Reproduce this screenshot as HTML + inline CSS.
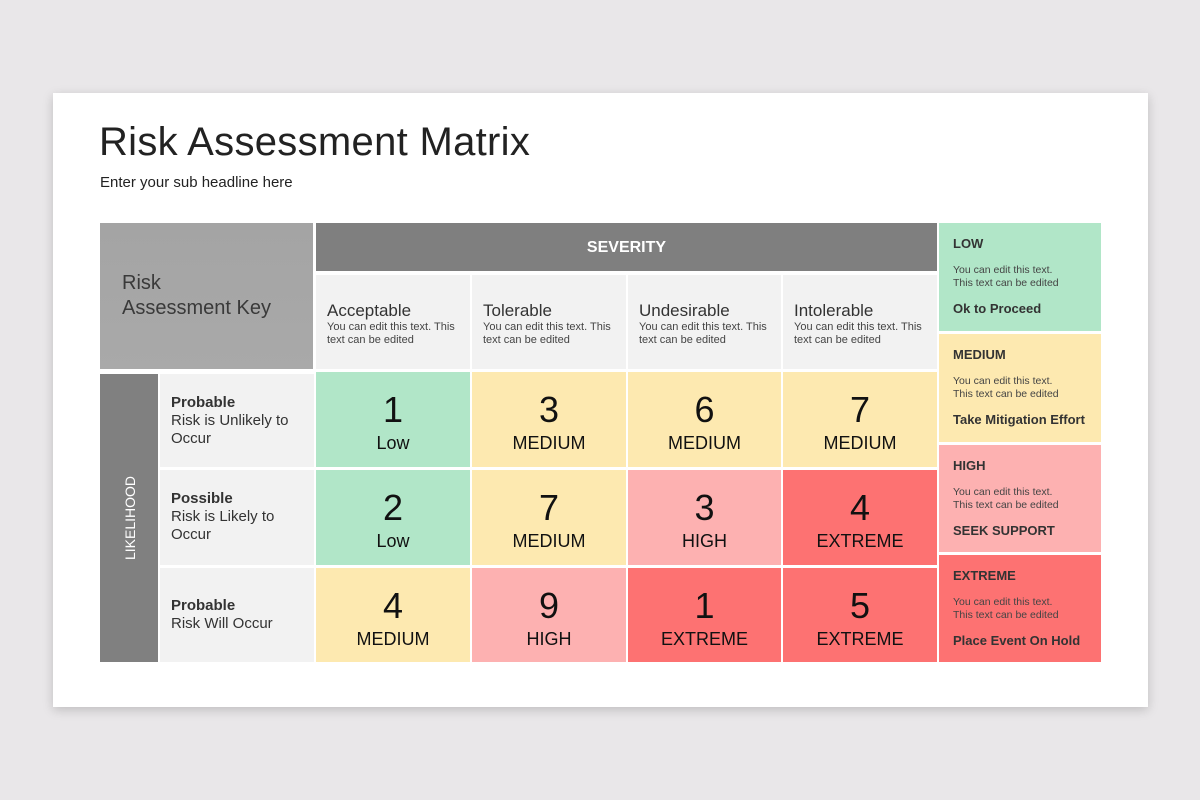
<!DOCTYPE html>
<html><head><style>
body{margin:0;width:1200px;height:800px;background:#e9e7e9;font-family:"Liberation Sans",sans-serif;position:relative;overflow:hidden}
.card{position:absolute;left:53px;top:93px;width:1095px;height:614px;background:#fff;box-shadow:0 3px 10px rgba(0,0,0,.18)}
.a{position:absolute;box-sizing:border-box}
.g{background:#b1e6c8}.y{background:#fde9b0}.p{background:#fdb1b1}.r{background:#fd7272}
.cell{text-align:center;color:#111}
.cell .n{font-size:36px;line-height:36px;margin-top:20px}
.cell .l{font-size:18px;margin-top:5px}
.hd{background:#f2f2f2;padding:26px 0 0 11px;color:#333}
.hd b{font-weight:normal;font-size:17px;display:block}
.hd span{font-size:11px;line-height:13px;display:block;color:#444;padding-right:8px}
.rl{background:#f2f2f2;padding:20px 0 0 11px;color:#333;font-size:15px;line-height:18px}
.rp{padding:13px 0 0 14px;color:#333}
.rp b{font-size:13px;display:block}
.rp span{font-size:10.5px;line-height:13px;display:block;margin-top:13px;color:#444}
.rp i{font-style:normal;font-weight:bold;font-size:13px;display:block;margin-top:11px}
</style></head><body>
<div class="card"></div>
<div class="a" style="left:99px;top:120px;font-size:40px;letter-spacing:0.3px;color:#222">Risk Assessment Matrix</div>
<div class="a" style="left:100px;top:174px;font-size:15px;color:#222">Enter your sub headline here</div>
<div class="a" style="left:100px;top:223px;width:213px;height:146px;background:linear-gradient(#a4a4a4,#a9a9a9);padding:48px 0 0 22px;font-size:20px;line-height:25px;color:#3a3a3a">Risk<br>Assessment Key</div>
<div class="a" style="left:316px;top:223px;width:621px;height:48px;background:#7f7f7f;color:#fff;font-weight:bold;font-size:16px;text-align:center;line-height:50px">SEVERITY</div>
<div class="a hd" style="left:316px;top:275px;width:154px;height:94px"><b>Acceptable</b><span>You can edit this text. This text can be edited</span></div>
<div class="a hd" style="left:472px;top:275px;width:154px;height:94px"><b>Tolerable</b><span>You can edit this text. This text can be edited</span></div>
<div class="a hd" style="left:628px;top:275px;width:153px;height:94px"><b>Undesirable</b><span>You can edit this text. This text can be edited</span></div>
<div class="a hd" style="left:783px;top:275px;width:154px;height:94px"><b>Intolerable</b><span>You can edit this text. This text can be edited</span></div>
<div class="a" style="left:100px;top:374px;width:58px;height:288px;background:#808080"></div>
<div class="a" style="left:118px;top:506px;width:24px;height:24px;transform:rotate(-90deg);transform-origin:center;color:#fff;font-size:14px;white-space:nowrap;text-align:center;line-height:24px"><span style="display:inline-block;width:120px;margin-left:-48px">LIKELIHOOD</span></div>
<div class="a rl" style="left:160px;top:374px;width:154px;height:93px"><b>Probable</b><br>Risk is Unlikely to Occur</div>
<div class="a rl" style="left:160px;top:470px;width:154px;height:95px"><b>Possible</b><br>Risk is Likely to Occur</div>
<div class="a rl" style="left:160px;top:568px;width:154px;height:94px;padding-top:29px"><b>Probable</b><br>Risk Will Occur</div>

<div class="a cell g" style="left:316px;top:372px;width:154px;height:95px"><div class="n">1</div><div class="l">Low</div></div>
<div class="a cell y" style="left:472px;top:372px;width:154px;height:95px"><div class="n">3</div><div class="l">MEDIUM</div></div>
<div class="a cell y" style="left:628px;top:372px;width:153px;height:95px"><div class="n">6</div><div class="l">MEDIUM</div></div>
<div class="a cell y" style="left:783px;top:372px;width:154px;height:95px"><div class="n">7</div><div class="l">MEDIUM</div></div>
<div class="a cell g" style="left:316px;top:470px;width:154px;height:95px"><div class="n">2</div><div class="l">Low</div></div>
<div class="a cell y" style="left:472px;top:470px;width:154px;height:95px"><div class="n">7</div><div class="l">MEDIUM</div></div>
<div class="a cell p" style="left:628px;top:470px;width:153px;height:95px"><div class="n">3</div><div class="l">HIGH</div></div>
<div class="a cell r" style="left:783px;top:470px;width:154px;height:95px"><div class="n">4</div><div class="l">EXTREME</div></div>
<div class="a cell y" style="left:316px;top:568px;width:154px;height:94px"><div class="n">4</div><div class="l">MEDIUM</div></div>
<div class="a cell p" style="left:472px;top:568px;width:154px;height:94px"><div class="n">9</div><div class="l">HIGH</div></div>
<div class="a cell r" style="left:628px;top:568px;width:153px;height:94px"><div class="n">1</div><div class="l">EXTREME</div></div>
<div class="a cell r" style="left:783px;top:568px;width:154px;height:94px"><div class="n">5</div><div class="l">EXTREME</div></div>

<div class="a rp g" style="left:939px;top:223px;width:162px;height:108px"><b>LOW</b><span>You can edit this text.<br>This text can be edited</span><i>Ok to Proceed</i></div>
<div class="a rp y" style="left:939px;top:334px;width:162px;height:108px"><b>MEDIUM</b><span>You can edit this text.<br>This text can be edited</span><i>Take Mitigation Effort</i></div>
<div class="a rp p" style="left:939px;top:445px;width:162px;height:107px"><b>HIGH</b><span>You can edit this text.<br>This text can be edited</span><i>SEEK SUPPORT</i></div>
<div class="a rp r" style="left:939px;top:555px;width:162px;height:107px"><b>EXTREME</b><span>You can edit this text.<br>This text can be edited</span><i>Place Event On Hold</i></div>
</body></html>
